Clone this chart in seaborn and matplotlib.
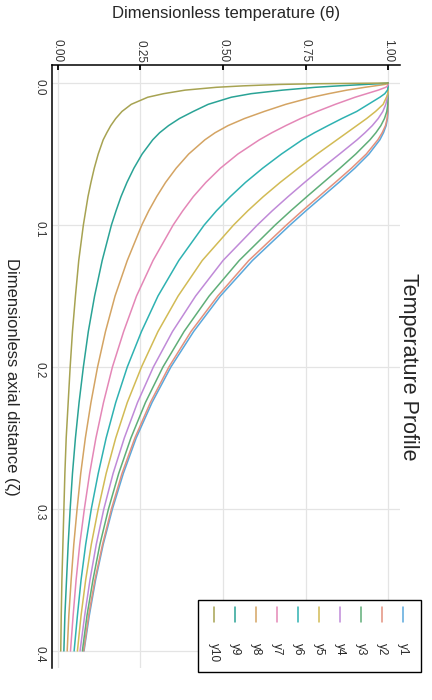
import numpy as np
import pandas as pd
import seaborn as sns
import matplotlib.pyplot as plt
from matplotlib.patches import Rectangle
from matplotlib.lines import Line2D

# axial positions (zeta) where the curves were read
zeta = [0, 0.0005, 0.001, 0.002, 0.003, 0.005, 0.0075, 0.01, 0.015, 0.02, 0.025, 0.03,
        0.035, 0.04, 0.05, 0.06, 0.07, 0.08, 0.09, 0.1, 0.125, 0.15, 0.175, 0.2,
        0.225, 0.25, 0.275, 0.3, 0.325, 0.35, 0.375, 0.4]

y1 = [1, 1, 1, 1, 1, 1, 1, 1, 1, 1.0, 0.998, 0.994, 0.986, 0.975, 0.942, 0.899, 0.851, 0.801,
      0.751, 0.703, 0.589, 0.492, 0.411, 0.342, 0.285, 0.237, 0.198, 0.165, 0.137, 0.114, 0.095, 0.079]
y2 = [1, 1, 1, 1, 1, 1, 1, 1, 1, 0.999, 0.997, 0.992, 0.982, 0.969, 0.934, 0.889, 0.840, 0.790,
      0.740, 0.692, 0.578, 0.484, 0.403, 0.336, 0.280, 0.233, 0.194, 0.162, 0.135, 0.112, 0.093, 0.078]
y3 = [1, 1, 1, 1, 1, 1, 1, 1, 0.999, 0.996, 0.989, 0.978, 0.963, 0.945, 0.902, 0.854, 0.804, 0.754,
      0.705, 0.658, 0.549, 0.458, 0.382, 0.318, 0.265, 0.221, 0.184, 0.153, 0.127, 0.106, 0.088, 0.074]
y4 = [1, 1, 1, 1, 1, 1, 0.999, 0.998, 0.993, 0.984, 0.970, 0.952, 0.930, 0.906, 0.853, 0.799, 0.747, 0.697,
      0.649, 0.604, 0.500, 0.417, 0.347, 0.289, 0.241, 0.201, 0.167, 0.139, 0.116, 0.097, 0.081, 0.067]
y5 = [1, 1, 1, 1, 1, 1, 0.999, 0.995, 0.985, 0.962, 0.935, 0.905, 0.875, 0.845, 0.785, 0.728, 0.673, 0.622,
      0.575, 0.532, 0.437, 0.364, 0.303, 0.253, 0.210, 0.175, 0.146, 0.122, 0.101, 0.084, 0.070, 0.059]
y6 = [1, 1, 1, 1, 1, 0.998, 0.990, 0.975, 0.940, 0.905, 0.860, 0.818, 0.777, 0.740, 0.677, 0.620, 0.568, 0.522,
      0.480, 0.443, 0.366, 0.303, 0.253, 0.210, 0.175, 0.146, 0.122, 0.101, 0.084, 0.070, 0.059, 0.049]
y7 = [1, 1, 1, 0.998, 0.993, 0.970, 0.935, 0.900, 0.840, 0.785, 0.735, 0.690, 0.648, 0.610, 0.545, 0.492, 0.448, 0.410,
      0.378, 0.349, 0.288, 0.238, 0.199, 0.165, 0.138, 0.115, 0.096, 0.080, 0.066, 0.055, 0.046, 0.038]
y8 = [1, 0.998, 0.990, 0.960, 0.930, 0.875, 0.820, 0.770, 0.690, 0.625, 0.565, 0.515, 0.476, 0.445, 0.396, 0.358, 0.326, 0.299,
      0.275, 0.254, 0.210, 0.173, 0.144, 0.120, 0.100, 0.083, 0.069, 0.058, 0.048, 0.040, 0.033, 0.028]
y9 = [1, 0.97, 0.93, 0.85, 0.78, 0.68, 0.585, 0.525, 0.455, 0.41, 0.368, 0.335, 0.308, 0.287, 0.255, 0.230, 0.209, 0.191,
      0.176, 0.162, 0.134, 0.111, 0.092, 0.077, 0.064, 0.053, 0.044, 0.037, 0.031, 0.026, 0.021, 0.018]
y10 = [1, 0.78, 0.67, 0.56, 0.48, 0.385, 0.32, 0.272, 0.222, 0.194, 0.175, 0.160, 0.148, 0.137, 0.122, 0.110, 0.100, 0.091,
       0.084, 0.077, 0.063, 0.053, 0.044, 0.037, 0.031, 0.025, 0.021, 0.018, 0.015, 0.012, 0.010, 0.0085]

series_names = ['y1', 'y2', 'y3', 'y4', 'y5', 'y6', 'y7', 'y8', 'y9', 'y10']
line_colors = ['#5aa8dc', '#e3917e', '#5fae78', '#c08ad8', '#d2bb55',
               '#2fb2b2', '#e487b7', '#d4a463', '#2aa396', '#a7a352']
theta_ticks = [0, 0.25, 0.5, 0.75, 1.0]
theta_labels = ['0.00', '0.25', '0.50', '0.75', '1.00']
zeta_ticks = [0, 0.1, 0.2, 0.3, 0.4]
zeta_labels = ['0.0', '0.1', '0.2', '0.3', '0.4']

curves = [y1, y2, y3, y4, y5, y6, y7, y8, y9, y10]
df = pd.DataFrame({
    'zeta': np.tile(zeta, len(curves)),
    'theta': np.concatenate(curves),
    'series': np.repeat(series_names, len(zeta)),
})

sns.set_style('white')
plt.rcParams['font.family'] = ['Liberation Sans', 'DejaVu Sans']

W, H = 432, 700
def fx(px):
    return px / W
def fy(py):
    return 1 - py / H

fig = plt.figure(figsize=(W / 100, H / 100), dpi=100)
ax = fig.add_axes([fx(52), fy(668), fx(400) - fx(52), fy(65) - fy(668)])

sns.lineplot(data=df, x='theta', y='zeta', hue='series', hue_order=series_names,
             palette=line_colors, sort=False, estimator=None, legend=False,
             lw=1.1, ax=ax)

ax.set_xlim(-0.018, 1.036)
ax.set_ylim(0.412, -0.0127)
ax.xaxis.tick_top()
ax.xaxis.set_label_position('top')
ax.set_xticks(theta_ticks)
ax.set_xticklabels(theta_labels)
ax.set_yticks(zeta_ticks)
ax.set_yticklabels(zeta_labels)
ax.grid(True, color='#e4e4e4', lw=0.9)
ax.set_axisbelow(True)

for side in ['right', 'bottom']:
    ax.spines[side].set_visible(False)
for side in ['top', 'left']:
    ax.spines[side].set_color('black')
    ax.spines[side].set_linewidth(1.1)

ax.tick_params(axis='x', direction='in', length=3.6, width=1.3, color='black',
               labelrotation=-90, labelsize=8.5, pad=1.8, labelcolor='#333333')
ax.tick_params(axis='y', direction='in', length=3.6, width=1.3, color='black',
               labelrotation=-90, labelsize=8.5, pad=5, labelcolor='#333333')

ax.set_xlabel('Dimensionless temperature (θ)', fontsize=12)
ax.xaxis.set_label_coords(0.5, (668 - 18) / 603)
ax.set_ylabel('Dimensionless axial distance (ζ)', fontsize=12, rotation=-90, va='center')
ax.yaxis.set_label_coords((12 - 52) / 348, (668 - 377) / 603)

fig.text(fx(408), fy(367), 'Temperature Profile', rotation=-90, ha='center', va='center', fontsize=15.5)

# legend, drawn turned like the rest of the chart
fig.add_artist(Rectangle((fx(198), fy(672)), fx(421) - fx(198), fy(600) - fy(672),
                         transform=fig.transFigure, facecolor='white', edgecolor='black',
                         lw=1.0, zorder=5))
for i, (name, col) in enumerate(zip(series_names[::-1], line_colors[::-1])):
    cx = fx(214.3 + 21 * i)
    fig.add_artist(Line2D([cx, cx], [fy(606.7), fy(621.7)], transform=fig.transFigure,
                          color=col, lw=1.1, zorder=6))
    fig.text(cx, fy(643), name, rotation=-90, ha='center', va='top', fontsize=8.5, zorder=6)

fig.savefig('out.png', dpi=100)
